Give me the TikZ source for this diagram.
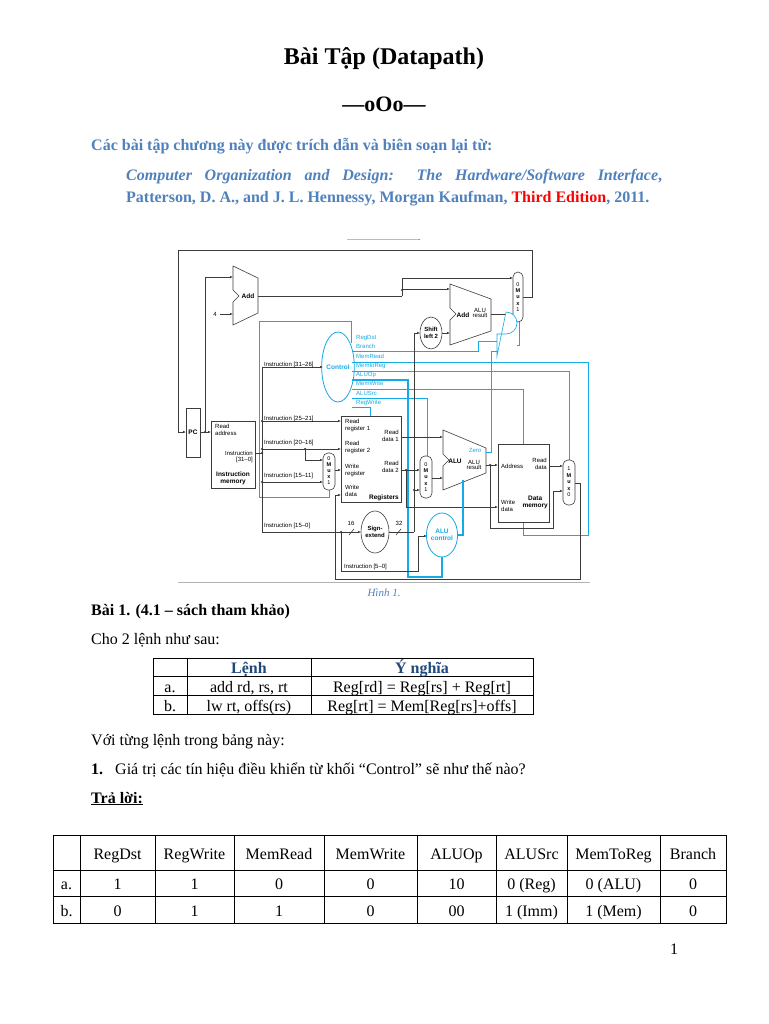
\documentclass[tikz,border=0pt]{standalone}
\usepackage{fontspec}
\setmainfont{Liberation Serif}
\setsansfont{Liberation Sans}
\usetikzlibrary{arrows.meta,shapes.geometric}
\definecolor{hb}{RGB}{79,129,189}
\definecolor{hd}{RGB}{31,73,125}
\definecolor{cy}{RGB}{20,170,230}
\definecolor{ln}{RGB}{60,60,60}
\begin{document}
\begin{tikzpicture}[x=1pt,y=-1pt,
  body/.style={font=\fontsize{16}{19}\selectfont,inner sep=0,anchor=base west},
  cell/.style={font=\fontsize{16}{19}\selectfont,inner sep=0,anchor=base},
  dg/.style={font=\fontsize{6}{6.5}\sffamily\selectfont,inner sep=0,align=left},
  dgb/.style={font=\fontsize{6.5}{7}\sffamily\bfseries\selectfont,inner sep=0,align=center},
  sig/.style={font=\fontsize{6}{6.5}\sffamily\selectfont,inner sep=0,anchor=base west,text=cy},
  w/.style={draw=ln,line width=0.6pt},
  wa/.style={draw=ln,line width=0.6pt,-{Latex[length=3pt,width=2.5pt]}},
  cw/.style={draw=cy,line width=0.6pt},
  cwk/.style={draw=cy,line width=1.2pt},
  blk/.style={draw=ln,line width=0.6pt,fill=white},
  muxs/.style={draw=ln,line width=0.6pt,rounded corners=5pt,fill=white},
  dot/.style={circle,fill=ln,inner sep=0,minimum size=2.5pt}]
\useasboundingbox (0,0) rectangle (768,1024);
\fill[white] (0,0) rectangle (768,1024);
% ---------- header text
\node[font=\fontsize{24}{28}\selectfont\bfseries,anchor=base,inner sep=0] (title) at (384,65) {Bài Tập (Datapath)};
\node[font=\fontsize{22}{26}\selectfont\bfseries,anchor=base,inner sep=0] (ooo) at (384,112) {---oOo---};
\node[body,text=hb,font=\fontsize{16}{19}\selectfont\bfseries] (src) at (91,151) {Các bài tập chương này được trích dẫn và biên soạn lại từ:};
\node[text=hb,font=\fontsize{16}{22}\selectfont\bfseries,text width=536pt,align=justify,inner sep=0,anchor=north west] (book) at (126,169)
 {\textit{Computer Organization and Design: The Hardware/Software Interface},\linebreak Patterson, D. A., and J. L. Hennessy, Morgan Kaufman, \textcolor{red}{Third Edition}, 2011.};
\node[text=hb,font=\fontsize{10}{12}\selectfont,anchor=base,inner sep=0] (dash) at (384,242) {----------------------};
% ---------- figure frame
\draw[gray!60,line width=0.5pt] (178,582) -- (590,582);
\node[text=hb,font=\fontsize{11}{13}\selectfont\itshape,anchor=base,inner sep=0] (cap) at (384,596) {Hình 1.};
% ---------- datapath
% PC loop
\draw[wa] (523,297) -- (532,297) -- (532,250) -- (178,250) -- (178,432) -- (186,432);
\node[blk,minimum width=14pt,minimum height=49pt,inner sep=0] (pc) at (193,432.5) {};
\node[dgb] at (193,432) {PC};
\draw[wa] (200,432) -- (211,432);
\node[dot] (j1) at (205,432) {};
\draw[wa] (205,432) -- (205,277) -- (233,277);
\node[dg] (four) at (215,314) {4};
\draw[wa] (220,314) -- (233,314);
% Add (PC+4)
\draw[blk] (233,266) -- (258,278) -- (258,313) -- (233,325) -- (233,302) -- (239,296) -- (233,290) -- cycle;
\node[dgb] (addl) at (248,296) {Add};
% add output
\draw[w] (258,296) -- (402,296);
\node[dot] (j2) at (402,290) {};
\draw[wa] (402,296) -- (402,278) -- (513,278);
\draw[wa] (402,289) -- (450,289);
% branch adder
\draw[blk] (450,284) -- (491,299) -- (491,331) -- (450,345) -- (450,320) -- (456,314) -- (450,308) -- cycle;
\node[dgb] at (463,315) {Add};
\node[dg,align=center] at (480,313) {ALU\\[-1pt]result};
\draw[wa] (491,314) -- (513,314);
% PCSrc mux
\draw[muxs] (513,272) rectangle (523,322);
\node[dg,align=center,font=\fontsize{5.5}{6.3}\sffamily\bfseries\selectfont] at (518,297) {\mdseries 0\\M\\u\\x\\\mdseries 1};
% shift left 2
\node[draw=ln,line width=0.6pt,ellipse,minimum width=22pt,minimum height=32pt,inner sep=0,dgb,font=\fontsize{6}{6.5}\sffamily\bfseries\selectfont] (sl2) at (431,333) {Shift\\left 2};
\draw[wa] (442,333) -- (450,333);
% AND gate
\draw[cw,fill=white] (497,334) -- (506,334) arc (90:-90:11) -- (497,356) -- cycle;
\draw[cw] (517,345) -- (519,345) -- (519,322);
% Control
\node[draw=cy,line width=0.8pt,ellipse,minimum width=30pt,minimum height=70pt,inner sep=0,text=cy,dgb] (ctrl) at (338,367) {Control};
\node[sig] at (356,339) {RegDst};
\node[sig] at (356,348) {Branch};
\node[sig] at (356,358) {MemRead};
\node[sig] at (356,367) {MemtoReg};
\node[sig] at (356,376) {ALUOp};
\node[sig] at (356,385) {MemWrite};
\node[sig] at (356,395) {ALUSrc};
\node[sig] at (356,404) {RegWrite};
% control lines
\draw[cw] (352,342) -- (351,342) -- (351,321) -- (259,321) -- (259,497) -- (329,497) -- (329,489);
\draw[cw] (352,351) -- (478,351) -- (478,341) -- (497,341);
\draw[cw] (352,362) -- (588,362) -- (588,535) -- (523,535) -- (523,522);
\draw[cw] (352,371) -- (569,371) -- (569,461);
\draw[cwk] (352,380) -- (408,380) -- (408,577) -- (442,577) -- (442,557);
\draw[cw] (352,389) -- (523,389) -- (523,444);
\draw[cw] (352,398) -- (427,398) -- (427,456);
\draw[cw] (352,407) -- (370,407) -- (370,416);
% instruction memory
\node[blk,minimum width=44pt,minimum height=67pt,inner sep=0] (imem) at (233,454.5) {};
\node[dg,anchor=north west] at (215,424) {Read\\address};
\node[dg,anchor=east,align=right] at (253,457) {Instruction\\{}[31--0]};
\node[dgb,anchor=center] at (233,478) {Instruction\\memory};
\draw[w] (255,453) -- (262,453);
\node[dot] at (262,453) {};
\draw[w] (262,367) -- (262,532);
\draw[wa] (262,367) -- (323,367);
\node[dg,anchor=base west] at (264,366) {Instruction [31--26]};
\draw[wa] (262,421) -- (341,421);
\node[dg,anchor=base west] at (264,420) {Instruction [25--21]};
\draw[wa] (262,449) -- (341,449);
\node[dg,anchor=base west] at (264,444) {Instruction [20--16]};
\node[dot] at (305,449) {};
\draw[wa] (305,449) -- (305,460) -- (323,460);
\draw[wa] (262,482) -- (323,482);
\node[dg,anchor=base west] at (264,477) {Instruction [15--11]};
\draw[wa] (262,532) -- (361,532);
\node[dg,anchor=base west] at (264,527) {Instruction [15--0]};
\foreach \y in {421,449,482} \node[dot] at (262,\y) {};
\node[dot] at (341,532) {};
\node[dg] at (351,523) {16};
\draw[w] (349,535) -- (354,529);
% ALU control input
\draw[wa] (341,532) -- (341,571) -- (418,571) -- (418,536) -- (427,536);
\node[dg,anchor=base west] at (344,568) {Instruction [5--0]};
% registers
\node[blk,minimum width=60pt,minimum height=86pt,inner sep=0] (regs) at (371,459) {};
\node[dg,anchor=north west] at (345,419) {Read\\register 1};
\node[dg,anchor=north west] at (345,441) {Read\\register 2};
\node[dg,anchor=north west] at (345,464) {Write\\register};
\node[dg,anchor=north west] at (345,485) {Write\\data};
\node[dg,anchor=north east,align=right] at (399,430) {Read\\data 1};
\node[dg,anchor=north east,align=right] at (399,461) {Read\\data 2};
\node[dgb,anchor=base east] at (399,499) {Registers};
% RegDst mux
\draw[muxs] (323,453) rectangle (335,490);
\node[dg,align=center,font=\fontsize{5.5}{6}\sffamily\bfseries\selectfont] at (329,471) {\mdseries 0\\M\\u\\x\\\mdseries 1};
\draw[wa] (335,470) -- (341,470);
% write back
\draw[wa] (575,483) -- (580,483) -- (580,579) -- (335,579) -- (335,495) -- (341,495);
% sign extend
\node[draw=ln,line width=0.6pt,ellipse,minimum width=28pt,minimum height=42pt,inner sep=0,dgb,font=\fontsize{6}{6.5}\sffamily\bfseries\selectfont] (sext) at (375,532) {Sign-\\extend};
\node[dg] at (399,523) {32};
\draw[w] (396,535) -- (401,529);
\draw[w] (389,532) -- (414,532);
\draw[wa] (414,532) -- (414,333) -- (420,333);
\node[dot] at (414,490) {};
\draw[wa] (414,490) -- (420,490);
% ALU
\draw[blk] (443,430) -- (486,448) -- (486,473) -- (443,490) -- (443,466) -- (449,460) -- (443,454) -- cycle;
\node[dgb] at (455,461) {ALU};
\node[dg,align=center] at (474,465) {ALU\\[-1pt]result};
\node[dg,text=cy] at (475,450) {Zero};
\draw[wa] (401,437) -- (443,437);
\draw[wa] (401,470) -- (420,470);
\node[dot] at (406,470) {};
\draw[wa] (406,470) -- (406,507) -- (498,507);
% ALUSrc mux
\draw[muxs] (420,456) rectangle (432,498);
\node[dg,align=center,font=\fontsize{5.5}{6.2}\sffamily\bfseries\selectfont] at (426,477) {\mdseries 0\\M\\u\\x\\\mdseries 1};
\draw[wa] (432,478) -- (443,478);
\draw[cw] (486,452) -- (491,452) -- (491,351) -- (497,351);
% ALU control
\node[draw=cy,line width=0.8pt,ellipse,minimum width=30pt,minimum height=44pt,inner sep=0,text=cy,dgb] (aluc) at (442,535) {ALU\\control};
\draw[cwk] (457,535) -- (463,535) -- (463,480);
% ALU result -> memory
\draw[wa] (486,465) -- (498,465);
\node[dot] at (490,465) {};
\draw[wa] (490,465) -- (490,528) -- (553,528) -- (553,491) -- (563,491);
% data memory
\node[blk,minimum width=51pt,minimum height=78pt,inner sep=0] (dmem) at (523.5,483) {};
\node[dg,anchor=base west] at (501,468) {Address};
\node[dg,anchor=north east,align=right] at (547,458) {Read\\data};
\node[dg,anchor=north west] at (501,500) {Write\\data};
\node[dgb,anchor=north east,align=center] at (548,496) {Data\\memory};
\draw[wa] (549,466) -- (563,466);
% MemtoReg mux
\draw[muxs] (563,460) rectangle (575,505);
\node[dg,align=center,font=\fontsize{5.5}{6.5}\sffamily\bfseries\selectfont] at (569,482) {\mdseries 1\\M\\u\\x\\\mdseries 0};
% ---------- Bai 1
\node[body,font=\fontsize{16}{19}\selectfont\bfseries] (b1) at (91,615) {Bài 1. (4.1 – sách tham khảo)};
\node[body] (cho) at (91,644) {Cho 2 lệnh như sau:};
% table 1
\draw[black,line width=0.6pt] (153,658) rectangle (533,714);
\draw[black,line width=0.6pt] (153,676) -- (533,676) (153,695) -- (533,695) (187,658) -- (187,714) (311,658) -- (311,714);
\node[cell,text=hd,font=\fontsize{16}{19}\selectfont\bfseries] at (249,673) {Lệnh};
\node[cell,text=hd,font=\fontsize{16}{19}\selectfont\bfseries] at (422,673) {Ý nghĩa};
\node[cell] at (170,692) {a.};
\node[cell] at (249,692) {add rd, rs, rt};
\node[cell] at (422,692) {Reg[rd] = Reg[rs] + Reg[rt]};
\node[cell] at (170,711) {b.};
\node[cell] at (249,711) {lw rt, offs(rs)};
\node[cell] at (422,711) {Reg[rt] = Mem[Reg[rs]+offs]};
\node[body] (voi) at (91,745) {Với từng lệnh trong bảng này:};
\node[body,font=\fontsize{16}{19}\selectfont\bfseries] (n1) at (91,774) {1.};
\node[body] (q1) at (115,774) {Giá trị các tín hiệu điều khiển từ khối “Control” sẽ như thế nào?};
\node[body,font=\fontsize{16}{19}\selectfont\bfseries] (tl) at (91,803) {\underline{Trả lời:}};
% table 2
\draw[black,line width=0.6pt] (53,835) rectangle (726,923);
\draw[black,line width=0.6pt] (53,870) -- (726,870) (53,896) -- (726,896);
\foreach \x in {80,155,234,324,417,496,567,660} \draw[black,line width=0.6pt] (\x,835) -- (\x,923);
\foreach \c/\t in {117.5/RegDst,194.5/RegWrite,279/MemRead,370.5/MemWrite,456.5/ALUOp,531.5/ALUSrc,613.5/MemToReg,693/Branch}
  \node[cell] at (\c,859) {\t};
\node[cell] at (66.5,889) {a.};
\foreach \c/\t in {117.5/1,194.5/1,279/0,370.5/0,456.5/10,531.5/0 (Reg),613.5/0 (ALU),693/0}
  \node[cell] at (\c,889) {\t};
\node[cell] at (66.5,916) {b.};
\foreach \c/\t in {117.5/0,194.5/1,279/1,370.5/0,456.5/00,531.5/1 (Imm),613.5/1 (Mem),693/0}
  \node[cell] at (\c,916) {\t};
\node[cell] (pg) at (674,954) {1};
\end{tikzpicture}
\end{document}
